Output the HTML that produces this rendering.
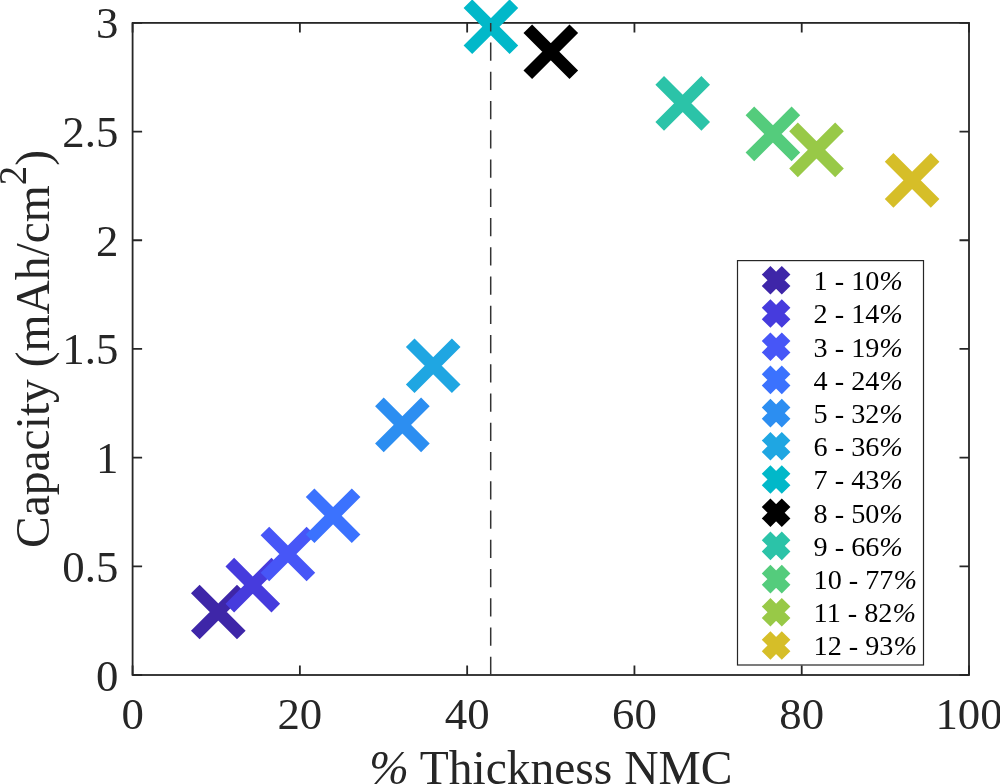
<!DOCTYPE html><html><head><meta charset="utf-8"><style>html,body{margin:0;padding:0;background:#fff;}svg{display:block;}text{font-family:"Liberation Serif","Times New Roman",serif;fill:#262626;}</style></head><body>
<svg width="1000" height="784" viewBox="0 0 1000 784">
<rect width="1000" height="784" fill="#fff"/>
<g stroke="#262626" stroke-width="1.8" fill="none">
<rect x="132.6" y="22.9" width="836.4" height="652.1"/>
<path d="M132.60 675.0V665.5M132.60 22.9V32.4M299.88 675.0V665.5M299.88 22.9V32.4M467.16 675.0V665.5M467.16 22.9V32.4M634.44 675.0V665.5M634.44 22.9V32.4M801.72 675.0V665.5M801.72 22.9V32.4M969.00 675.0V665.5M969.00 22.9V32.4M132.6 675.00H142.1M969.0 675.00H959.5M132.6 566.32H142.1M969.0 566.32H959.5M132.6 457.63H142.1M969.0 457.63H959.5M132.6 348.95H142.1M969.0 348.95H959.5M132.6 240.27H142.1M969.0 240.27H959.5M132.6 131.58H142.1M969.0 131.58H959.5M132.6 22.90H142.1M969.0 22.90H959.5"/>
</g>
<path d="M195.30 589.00L241.30 635.00M195.30 635.00L241.30 589.00" stroke="#3E26A8" stroke-width="12.2" fill="none"/>
<path d="M229.80 562.10L275.80 608.10M229.80 608.10L275.80 562.10" stroke="#463BDD" stroke-width="12.2" fill="none"/>
<path d="M264.90 531.00L310.90 577.00M264.90 577.00L310.90 531.00" stroke="#4756F7" stroke-width="12.2" fill="none"/>
<path d="M310.10 492.70L356.10 538.70M310.10 538.70L356.10 492.70" stroke="#3B72FE" stroke-width="12.2" fill="none"/>
<path d="M379.40 401.90L425.40 447.90M379.40 447.90L425.40 401.90" stroke="#2C8EF1" stroke-width="12.2" fill="none"/>
<path d="M410.20 342.80L456.20 388.80M410.20 388.80L456.20 342.80" stroke="#1FA6E2" stroke-width="12.2" fill="none"/>
<path d="M467.90 3.70L513.90 49.70M467.90 49.70L513.90 3.70" stroke="#01B8C9" stroke-width="12.2" fill="none"/>
<path d="M527.80 28.80L573.80 74.80M527.80 74.80L573.80 28.80" stroke="#000000" stroke-width="12.2" fill="none"/>
<path d="M659.70 80.40L705.70 126.40M659.70 126.40L705.70 80.40" stroke="#2BC3A8" stroke-width="12.2" fill="none"/>
<path d="M749.90 110.90L795.90 156.90M749.90 156.90L795.90 110.90" stroke="#54CC7C" stroke-width="12.2" fill="none"/>
<path d="M793.50 126.90L839.50 172.90M793.50 172.90L839.50 126.90" stroke="#98C947" stroke-width="12.2" fill="none"/>
<path d="M889.10 157.40L935.10 203.40M889.10 203.40L935.10 157.40" stroke="#D6BE28" stroke-width="12.2" fill="none"/>
<path d="M490.7 675.0V22.9" stroke="#333" stroke-width="1.5" stroke-dasharray="18.2 11.05" fill="none"/>
<text x="118.3" y="690.50" font-size="44.8" text-anchor="end">0</text>
<text x="118.3" y="581.82" font-size="44.8" text-anchor="end">0.5</text>
<text x="118.3" y="473.13" font-size="44.8" text-anchor="end">1</text>
<text x="118.3" y="364.45" font-size="44.8" text-anchor="end">1.5</text>
<text x="118.3" y="255.77" font-size="44.8" text-anchor="end">2</text>
<text x="118.3" y="147.08" font-size="44.8" text-anchor="end">2.5</text>
<text x="118.3" y="38.40" font-size="44.8" text-anchor="end">3</text>
<text x="132.60" y="728.9" font-size="44.8" text-anchor="middle">0</text>
<text x="299.88" y="728.9" font-size="44.8" text-anchor="middle">20</text>
<text x="467.16" y="728.9" font-size="44.8" text-anchor="middle">40</text>
<text x="634.44" y="728.9" font-size="44.8" text-anchor="middle">60</text>
<text x="801.72" y="728.9" font-size="44.8" text-anchor="middle">80</text>
<text x="969.00" y="728.9" font-size="44.8" text-anchor="middle">100</text>
<text x="550.80" y="783.6" font-size="47.5" text-anchor="middle"><tspan font-style="italic">%</tspan> Thickness NMC</text>
<text transform="translate(48.5 348.95) rotate(-90)" font-size="47.5" text-anchor="middle">Capacity (mAh/cm<tspan dy="-23" font-size="39">2</tspan><tspan dy="23">)</tspan></text>
<rect x="737.5" y="260.6" width="186" height="404.4" fill="#fff" stroke="#262626" stroke-width="1.2"/>
<path d="M766.10 270.30L786.10 290.30M766.10 290.30L786.10 270.30" stroke="#3E26A8" stroke-width="12.2" fill="none"/>
<text x="813.6" y="290.20" font-size="28.2" style="fill:#000">1 - 10<tspan font-style="italic">%</tspan></text>
<path d="M766.10 303.50L786.10 323.50M766.10 323.50L786.10 303.50" stroke="#463BDD" stroke-width="12.2" fill="none"/>
<text x="813.6" y="323.40" font-size="28.2" style="fill:#000">2 - 14<tspan font-style="italic">%</tspan></text>
<path d="M766.10 336.70L786.10 356.70M766.10 356.70L786.10 336.70" stroke="#4756F7" stroke-width="12.2" fill="none"/>
<text x="813.6" y="356.60" font-size="28.2" style="fill:#000">3 - 19<tspan font-style="italic">%</tspan></text>
<path d="M766.10 369.90L786.10 389.90M766.10 389.90L786.10 369.90" stroke="#3B72FE" stroke-width="12.2" fill="none"/>
<text x="813.6" y="389.80" font-size="28.2" style="fill:#000">4 - 24<tspan font-style="italic">%</tspan></text>
<path d="M766.10 403.10L786.10 423.10M766.10 423.10L786.10 403.10" stroke="#2C8EF1" stroke-width="12.2" fill="none"/>
<text x="813.6" y="423.00" font-size="28.2" style="fill:#000">5 - 32<tspan font-style="italic">%</tspan></text>
<path d="M766.10 436.30L786.10 456.30M766.10 456.30L786.10 436.30" stroke="#1FA6E2" stroke-width="12.2" fill="none"/>
<text x="813.6" y="456.20" font-size="28.2" style="fill:#000">6 - 36<tspan font-style="italic">%</tspan></text>
<path d="M766.10 469.50L786.10 489.50M766.10 489.50L786.10 469.50" stroke="#01B8C9" stroke-width="12.2" fill="none"/>
<text x="813.6" y="489.40" font-size="28.2" style="fill:#000">7 - 43<tspan font-style="italic">%</tspan></text>
<path d="M766.10 502.70L786.10 522.70M766.10 522.70L786.10 502.70" stroke="#000000" stroke-width="12.2" fill="none"/>
<text x="813.6" y="522.60" font-size="28.2" style="fill:#000">8 - 50<tspan font-style="italic">%</tspan></text>
<path d="M766.10 535.90L786.10 555.90M766.10 555.90L786.10 535.90" stroke="#2BC3A8" stroke-width="12.2" fill="none"/>
<text x="813.6" y="555.80" font-size="28.2" style="fill:#000">9 - 66<tspan font-style="italic">%</tspan></text>
<path d="M766.10 569.10L786.10 589.10M766.10 589.10L786.10 569.10" stroke="#54CC7C" stroke-width="12.2" fill="none"/>
<text x="813.6" y="589.00" font-size="28.2" style="fill:#000">10 - 77<tspan font-style="italic">%</tspan></text>
<path d="M766.10 602.30L786.10 622.30M766.10 622.30L786.10 602.30" stroke="#98C947" stroke-width="12.2" fill="none"/>
<text x="813.6" y="622.20" font-size="28.2" style="fill:#000">11 - 82<tspan font-style="italic">%</tspan></text>
<path d="M766.10 635.50L786.10 655.50M766.10 655.50L786.10 635.50" stroke="#D6BE28" stroke-width="12.2" fill="none"/>
<text x="813.6" y="655.40" font-size="28.2" style="fill:#000">12 - 93<tspan font-style="italic">%</tspan></text>
</svg></body></html>
